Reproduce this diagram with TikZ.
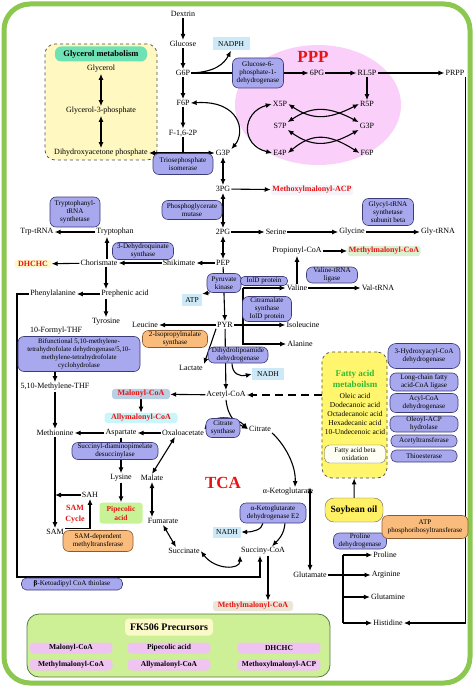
\documentclass[tikz,border=0pt]{standalone}
\usepackage{fontspec}
\setmainfont{Liberation Serif}
\usetikzlibrary{arrows.meta,shapes.geometric}
\definecolor{enzf}{RGB}{168,168,238}
\definecolor{enzd}{RGB}{60,60,120}
\definecolor{orgf}{RGB}{250,188,125}
\definecolor{orgd}{RGB}{140,90,50}
\definecolor{coff}{RGB}{205,232,246}
\definecolor{pinkp}{RGB}{250,208,250}
\definecolor{glyy}{RGB}{255,248,192}
\definecolor{fay}{RGB}{255,246,110}
\definecolor{soyy}{RGB}{255,240,100}
\definecolor{mint}{RGB}{110,226,180}
\definecolor{fag}{RGB}{50,185,50}
\definecolor{outg}{RGB}{140,200,80}
\definecolor{redt}{RGB}{230,20,20}
\definecolor{fkg}{RGB}{205,240,150}
\definecolor{fkd}{RGB}{90,120,70}
\definecolor{pinkb}{RGB}{240,196,240}
\definecolor{malbg}{RGB}{185,207,228}
\definecolor{allbg}{RGB}{200,246,250}
\definecolor{mmbg}{RGB}{220,240,210}
\definecolor{mm2bg}{RGB}{236,230,215}
\definecolor{dhbg}{RGB}{255,248,200}
\definecolor{mxbg}{RGB}{244,244,250}
\definecolor{pipbg}{RGB}{200,242,150}
\definecolor{fktbg}{RGB}{250,250,200}
\pgfdeclarelayer{back}
\pgfdeclarelayer{edges}
\pgfsetlayers{back,edges,main}
\tikzset{
 lab/.style={font=\fontsize{8}{9}\selectfont, inner sep=1pt},
 enz/.style={draw=enzd, fill=enzf, rounded corners=6pt, font=\fontsize{7.1}{7.9}\selectfont, align=center, inner sep=0.5pt, line width=0.6pt},
 org/.style={enz, draw=orgd, fill=orgf},
 cof/.style={fill=coff, font=\fontsize{7.5}{8}\selectfont, inner sep=1pt},
 hl/.style={font=\bfseries\fontsize{8}{9}\selectfont, text=redt, rounded corners=3pt, inner sep=1.5pt},
 arr/.style={-{Latex[length=6pt,width=5pt]}, line width=1.1pt},
 darr/.style={{Latex[length=6pt,width=5pt]}-{Latex[length=6pt,width=5pt]}, line width=1.1pt},
 ln/.style={line width=1.1pt},
 pkb/.style={fill=pinkb, rounded corners=4pt, minimum width=83pt, minimum height=11pt, font=\bfseries\fontsize{7.5}{8}\selectfont, inner sep=0pt},
 big/.style={font=\bfseries\fontsize{17}{18}\selectfont, text=redt},
}
\begin{document}
\begin{tikzpicture}[x=1pt,y=-1pt]
\useasboundingbox (0,0) rectangle (474,687);
\begin{pgfonlayer}{back}
\fill[white] (0,0) rectangle (474,687);
\draw[outg, line width=5pt, rounded corners=26pt] (4,4) rectangle (470,683);
\node[draw=black!70, dashed, fill=glyy, rounded corners=10pt, minimum width=112pt, minimum height=116pt, line width=0.7pt] (glybox) at (101,102) {};
\node[ellipse, fill=pinkp, minimum width=166pt, minimum height=120pt] (pppbg) at (318,105) {};
\node[draw=black!70, dashed, fill=fay, rounded corners=10pt, minimum width=65pt, minimum height=126pt, line width=0.7pt] (fabox) at (354.5,415) {};
\node[draw=fkd, fill=fkg, rounded corners=12pt, minimum width=303pt, minimum height=63pt, line width=0.8pt] (fkbox) at (178.5,645.5) {};
\end{pgfonlayer}

% glycolysis column
\node[lab] (dextrin) at (183,14) {Dextrin};
\node[lab] (glucose) at (183,44) {Glucose};
\node[lab] (g6p) at (183,73) {G6P};
\node[lab] (f6p) at (183,103) {F6P};
\node[lab] (f16) at (183,133) {F-1,6-2P};
\node[lab] (g3p) at (223,153) {G3P};
\node[enz, minimum width=60pt, minimum height=21pt] (tpi) at (183,164) {Triosephosphate\\isomerase};
% glycerol
\node[fill=mint, rounded corners=6pt, minimum width=92pt, minimum height=15pt, inner sep=0pt, font=\bfseries\fontsize{8.5}{9}\selectfont] (glytitle) at (101,54) {Glycerol metabolism};
\node[lab] (glycerol) at (101,69) {Glycerol};
\node[lab] (g3phos) at (101,111) {Glycerol-3-phosphate};
\node[lab] (dhap) at (101,153) {Dihydroxyacetone phosphate};
% PPP
\node[cof, minimum width=37pt, minimum height=13pt] (nadph) at (231,44) {NADPH};
\node[enz, minimum width=51pt, minimum height=30pt] (g6pdh) at (258,73) {Glucose-6-\\phosphate-1-\\dehydrogenase};
\node[big] (ppp) at (313,57) {PPP};
\node[lab] (pg6) at (317,73) {6PG};
\node[lab] (rl5p) at (367,73) {RL5P};
\node[lab] (prpp) at (455,73) {PRPP};
\node[lab] (r5p) at (367,104) {R5P};
\node[lab] (g3pr) at (367,126) {G3P};
\node[lab] (f6pr) at (367,153) {F6P};
\node[lab] (x5p) at (280,104) {X5P};
\node[lab] (s7p) at (280,126) {S7P};
\node[lab] (e4p) at (280,153) {E4P};
% lower glycolysis
\node[lab] (pg3) at (223,189) {3PG};
\node[hl, fill=mxbg] (mxacp) at (312,190) {Methoxylmalonyl-ACP};
\node[enz, minimum width=60pt, minimum height=19pt] (pgm) at (192,210) {Phosphoglycerate\\mutase};
\node[lab] (pg2) at (223,232) {2PG};
\node[lab] (ser) at (276,232) {Serine};
\node[lab] (gly) at (352,232) {Glycine};
\node[lab] (glytrna) at (438,232) {Gly-tRNA};
\node[enz, minimum width=51pt, minimum height=27pt] (gts) at (388,212) {Glycyl-tRNA\\synthetase\\subunit beta};
\node[lab] (pep) at (223,263) {PEP};
\node[enz, minimum width=34pt, minimum height=19pt] (pk) at (224,283) {Pyruvate\\kinase};
\node[cof, minimum width=20pt, minimum height=12pt] (atp) at (192,300) {ATP};
\node[lab] (pyr) at (225,325) {PYR};
\node[lab] (leu) at (145,325) {Leucine};
\node[org, minimum width=65pt, minimum height=17pt] (ipms) at (175,339) {2-Isopropylmalate\\synthase};
\node[lab] (ile) at (303,325) {Isoleucine};
\node[lab] (ala) at (300,344) {Alanine};
\node[lab] (val) at (297,288) {Valine};
\node[enz, minimum width=47pt, minimum height=9pt, rounded corners=4pt] (iold) at (264,281) {IolD protein};
\node[enz, minimum width=49pt, minimum height=25pt] (cms) at (267,309) {Citramalate\\synthase\\IolD protein};
\node[lab] (propcoa) at (297,251) {Propionyl-CoA};
\node[hl, fill=mmbg] (mmcoa1) at (384,251) {Methylmalonyl-CoA};
\node[lab] (valtrna) at (378,288) {Val-tRNA};
\node[enz, minimum width=51pt, minimum height=16pt] (vtl) at (332,275) {Valine-tRNA\\ligase};
% aromatic
\node[lab] (shik) at (179,263) {Shikimate};
\node[enz, minimum width=61pt, minimum height=17pt] (dhqs) at (143,251) {3-Dehydroquinate\\synthase};
\node[lab] (chor) at (99,263) {Chorismate};
\node[hl, fill=dhbg, minimum width=37pt] (dhchc) at (33,264) {DHCHC};
\node[lab] (trp) at (115,232) {Tryptophan};
\node[lab] (trptrna) at (37,232) {Trp-tRNA};
\node[enz, minimum width=50pt, minimum height=30pt] (trs) at (75,212) {Tryptophanyl-\\tRNA\\synthetase};
\node[lab] (preph) at (125,294) {Prephenic acid};
\node[lab] (phe) at (53,294) {Phenylalanine};
\node[lab] (tyr) at (106,322) {Tyrosine};
\coordinate (lft) at (17,577);
% folate / methionine
\node[lab] (fthf) at (56,331) {10-Formyl-THF};
\node[enz, minimum width=122pt, minimum height=35pt, font=\fontsize{6.9}{7.9}\selectfont] (bif) at (79,354) {Bifunctional 5,10-methylene-\\tetrahydrofolate dehydrogenase/5,10-\\methylene-tetrahydrofolate\\cyclohydrolase};
\node[lab] (mthf) at (55,387) {5,10-Methylene-THF};
\node[lab] (met) at (55,433) {Methionine};
\node[lab] (asp) at (121,433) {Aspartate};
\node[lab] (oaa) at (183,433) {Oxaloacetate};
\node[hl, fill=malbg, minimum width=58pt] (malcoa) at (141,394) {Malonyl-CoA};
\node[hl, fill=allbg, minimum width=73pt] (allcoa) at (141,418) {Allymalonyl-CoA};
\node[lab] (accoa) at (226,395) {Acetyl-CoA};
\node[enz, minimum width=86pt, minimum height=17pt] (sdd) at (115,451) {Succinyl-diaminopimelate\\desuccinylase};
\node[lab] (lys) at (121,478) {Lysine};
\node[lab] (mal) at (152,478) {Malate};
\node[hl, fill=pipbg, minimum width=43pt, minimum height=21pt, align=center, font=\bfseries\fontsize{7.5}{9}\selectfont] (pip) at (121,513) {Pipecolic\\acid};
\node[lab] (fum) at (163,521) {Fumarate};
\node[lab] (succ) at (184,551) {Succinate};
\node[lab] (succoa) at (263,551) {Succiny-CoA};
\node[lab] (sah) at (90,495) {SAH};
\node[lab] (sam) at (55,532) {SAM};
\node[font=\bfseries\fontsize{8}{10.5}\selectfont, text=redt, align=center, inner sep=0pt] (samcyc) at (75,514) {SAM\\Cycle};
\node[org, minimum width=70pt, minimum height=21pt] (samdm) at (98,541) {SAM-dependent\\methyltransferase};
\node[enz, minimum width=101pt, minimum height=12pt, rounded corners=5pt] (bkt) at (72,584) {\textbf{β}-Ketoadipyl CoA thiolase};
% TCA
\node[enz, minimum width=60pt, minimum height=16pt] (dld) at (238,355) {Dihydrolipoamide\\dehydrogenase};
\node[cof, minimum width=32pt, minimum height=12pt] (nadh1) at (268,374) {NADH};
\node[lab] (lac) at (191,368) {Lactate};
\node[lab] (cit) at (260,429) {Citrate};
\node[enz, minimum width=34pt, minimum height=19pt] (cs) at (223,428) {Citrate\\synthase};
\node[big] (tca) at (223,483) {TCA};
\node[lab] (akg) at (288,492) {α-Ketoglutarate};
\node[enz, minimum width=66pt, minimum height=20pt] (akgdh) at (273,513) {α-Ketoglutarate\\dehydrogenase E2};
\node[cof, minimum width=28pt, minimum height=11pt] (nadh2) at (227,532) {NADH};
\node[hl, fill=mm2bg, minimum width=80pt] (mmcoa2) at (253,606) {Methylmalonyl-CoA};
% amino acids from glutamate
\node[lab] (glu) at (310,575) {Glutamate};
\node[lab] (arg) at (386,575) {Arginine};
\node[lab] (pro) at (385,555) {Proline};
\node[lab] (gln) at (388,597) {Glutamine};
\node[lab] (his) at (388,623) {Histidine};
\coordinate (brt) at (343,555);
\coordinate (brb) at (343,623);
\node[enz, minimum width=53pt, minimum height=16pt] (prodh) at (360,541) {Proline\\dehydrogenase};
\node[org, minimum width=86pt, minimum height=23pt] (atppr) at (425,527) {ATP\\phosphoribosyltransferase};
% fatty acid
\node[draw=black!60, fill=soyy, rounded corners=9pt, minimum width=58pt, minimum height=24pt, inner sep=0pt, font=\bfseries\fontsize{9.5}{10}\selectfont] (soy) at (354,510) {Soybean oil};
\node[font=\bfseries\fontsize{9}{11}\selectfont, text=fag, align=center, inner sep=0pt] (fatitle) at (355,379) {Fatty acid\\metaboilsm};
\node[font=\fontsize{7.5}{9}\selectfont, align=center, inner sep=0pt] (falist) at (355,414) {Oleic acid\\Dodecanoic acid\\Octadecanoic acid\\Hexadecanic acid\\10-Undecenoic acid};
\node[draw=black!60, fill=white!95!yellow, rounded corners=5pt, minimum width=61pt, minimum height=18pt, inner sep=0pt, align=center, font=\fontsize{7}{8}\selectfont] (fabeta) at (355,454) {Fatty acid beta\\oxidation};
\node[enz, minimum width=72pt, minimum height=25pt, rounded corners=8pt] (e1) at (424,356) {3-Hydroxyacyl-CoA\\dehydrogenase};
\node[enz, minimum width=68pt, minimum height=18pt] (e2) at (424,382) {Long-chain fatty\\acid-CoA ligase};
\node[enz, minimum width=68pt, minimum height=19pt] (e3) at (424,403) {Acyl-CoA\\dehydrogenase};
\node[enz, minimum width=68pt, minimum height=16pt] (e4) at (424,424) {Oleoyl-ACP\\hydrolase};
\node[enz, minimum width=66pt, minimum height=12pt, rounded corners=5pt] (e5) at (424,441) {Acetyltransferase};
\node[enz, minimum width=66pt, minimum height=12pt, rounded corners=5pt] (e6) at (424,456) {Thioesterase};
% FK506
\node[fill=fktbg, rounded corners=4pt, minimum width=88pt, minimum height=17pt, inner sep=0pt, font=\bfseries\fontsize{10}{11}\selectfont] (fktitle) at (169,627) {FK506 Precursors};
\node[pkb] (fk1) at (71,648) {Malonyl-CoA};
\node[pkb] (fk2) at (169,648) {Pipecolic acid};
\node[pkb] (fk3) at (279,648) {DHCHC};
\node[pkb] (fk4) at (71,665) {Methylmalonyl-CoA};
\node[pkb] (fk5) at (169,665) {Allymalonyl-CoA};
\node[pkb] (fk6) at (279,665) {Methoxylmalonyl-ACP};
\coordinate (vb) at (243,288);

\begin{pgfonlayer}{edges}
\draw[arr] (dextrin) -- (glucose);
\draw[arr] (glucose) -- (g6p);
\draw[arr] (g6p) -- (f6p);
\draw[arr] (f6p) -- (f16);
\draw[ln] (f16.south) -- (f16.south |- dhap.east);
\draw[darr] (dhap.east) -- (g3p.west);
\draw[darr] (glycerol) -- (g3phos);
\draw[darr] (g3phos) -- (dhap);
\draw[ln] (g6p.east) -- (g6pdh.west);
\draw[arr] (g6p.east) .. controls (215,72) and (224,64) .. (nadph.south);
\draw[arr] (g6pdh) -- (pg6);
\draw[arr] (pg6) -- (rl5p);
\draw[arr] (rl5p) -- (prpp);
\draw[arr] (rl5p) -- (r5p);
\draw[darr] (x5p.east) .. controls (312,120) and (328,120) .. (r5p.west);
\draw[darr] (s7p.north east) .. controls (312,106) and (328,106) .. (g3pr.north west);
\draw[darr] (s7p.south east) .. controls (312,147) and (328,147) .. (g3pr.south west);
\draw[darr] (e4p.east) .. controls (312,133) and (328,133) .. (f6pr.west);
\draw[darr] (f6p.east) .. controls (240,100) and (246,132) .. (g3p.north east);
\draw[darr] (x5p.west) .. controls (242,112) and (240,145) .. (e4p.west);
\draw[darr] (g3p) -- (pg3);
\draw[arr] (pg3) -- (mxacp);
\draw[darr] (pg3) -- (pg2);
\draw[darr] (pg2) -- (pep);
\draw[arr] (pg2) -- (ser);
\draw[arr] (ser) -- (gly);
\draw[arr] (gly) -- (glytrna);
\draw[arr] (pep) -- (shik);
\draw[arr] (shik) -- (chor);
\draw[arr] (chor) -- (dhchc);
\draw[arr] ([xshift=8pt]chor.north) -- ([xshift=8pt]chor.north |- trp.south);
\draw[arr] (trp) -- (trptrna);
\draw[arr] ([xshift=7pt]chor.south) -- ([xshift=7pt]chor.south |- preph.north);
\draw[arr] (preph.south -| tyr) -- (tyr.north);
\draw[arr] (preph) -- (phe);
\draw[arr] (phe.west) -| (lft) -| ([xshift=-3pt]succoa.south);
\draw[arr] (pep) -- (pyr);
\draw[arr] ([xshift=3pt]pk.south west) -- (atp.north east);
\draw[arr] (pyr) -- (leu);
\draw[arr] (pyr) -- (ile);
\draw[arr] (vb) -- (val);
\draw[arr] (vb) |- (ala);
\draw[arr] (val) -- (propcoa);
\draw[arr] (propcoa) -- (mmcoa1);
\draw[arr] (val) -- (valtrna);
\draw[arr] (pyr.south west) -- (lac.north east);
\draw[arr] (pyr) -- (accoa);
\draw[arr] ([xshift=-6pt]dld.south) .. controls (232,374) and (240,377) .. (nadh1.west);
\draw[arr] (accoa) -- (malcoa);
\draw[arr] (malcoa) -- (allcoa);
\draw[arr, dash pattern=on 8pt off 5pt] (fabox.west |- accoa) -- (accoa);
\draw[arr] (soy) -- (fabox);
\draw[arr] (accoa.south) .. controls (228,418) and (236,423) .. (cit.west);
\draw[arr] (oaa.north east) .. controls (205,417) and (232,413) .. (cit.west);
\draw[arr] (cit.south east) .. controls (285,445) and (296,465) .. ([xshift=7pt]akg.north);
\draw[arr] (oaa) -- (asp);
\draw[arr] (asp) -- (met);
\draw[arr] (bif.south -| mthf) -- (mthf);
\draw[arr] (mthf) -- (met);
\draw[arr] (asp) -- (lys);
\draw[arr] (lys) -- (pip);
\draw[darr] (mal.north) -- ([xshift=-8pt]oaa.south);
\draw[darr] (mal.south) -- (mal.south |- fum.north);
\draw[darr] (fum.south) -- ([xshift=-8pt]succ.north);
\draw[darr] (succ.east) .. controls (215,570) and (240,570) .. (succoa.south west);
\draw[arr] (met) -- (sam);
\draw[arr] (sah) -- (sah -| met);
\draw[arr] (sam.north east) -| (sah.south);
\draw[arr] ([xshift=-10pt]akgdh.south) .. controls (262,530) and (252,532) .. (nadh2.east);
\draw[arr] ([xshift=12pt]akgdh.south) .. controls (284,535) and (278,540) .. ([xshift=9pt]succoa.north);
\draw[darr] (glu.north) -- (glu.north |- akg.north);
\draw[arr] (glu) -- (arg);
\draw[ln] (brt) -- (brb);
\draw[arr] (brt) -- (pro);
\draw[arr] (brb) -- (his);
\draw[arr] (brt |- gln) -- (gln);
\draw[arr] (prpp.south east) |- (his.east);
\draw[arr] ([xshift=5pt]succoa.south) -- ([xshift=5pt]succoa.south |- mmcoa2.north);
\end{pgfonlayer}
\end{tikzpicture}
\end{document}
